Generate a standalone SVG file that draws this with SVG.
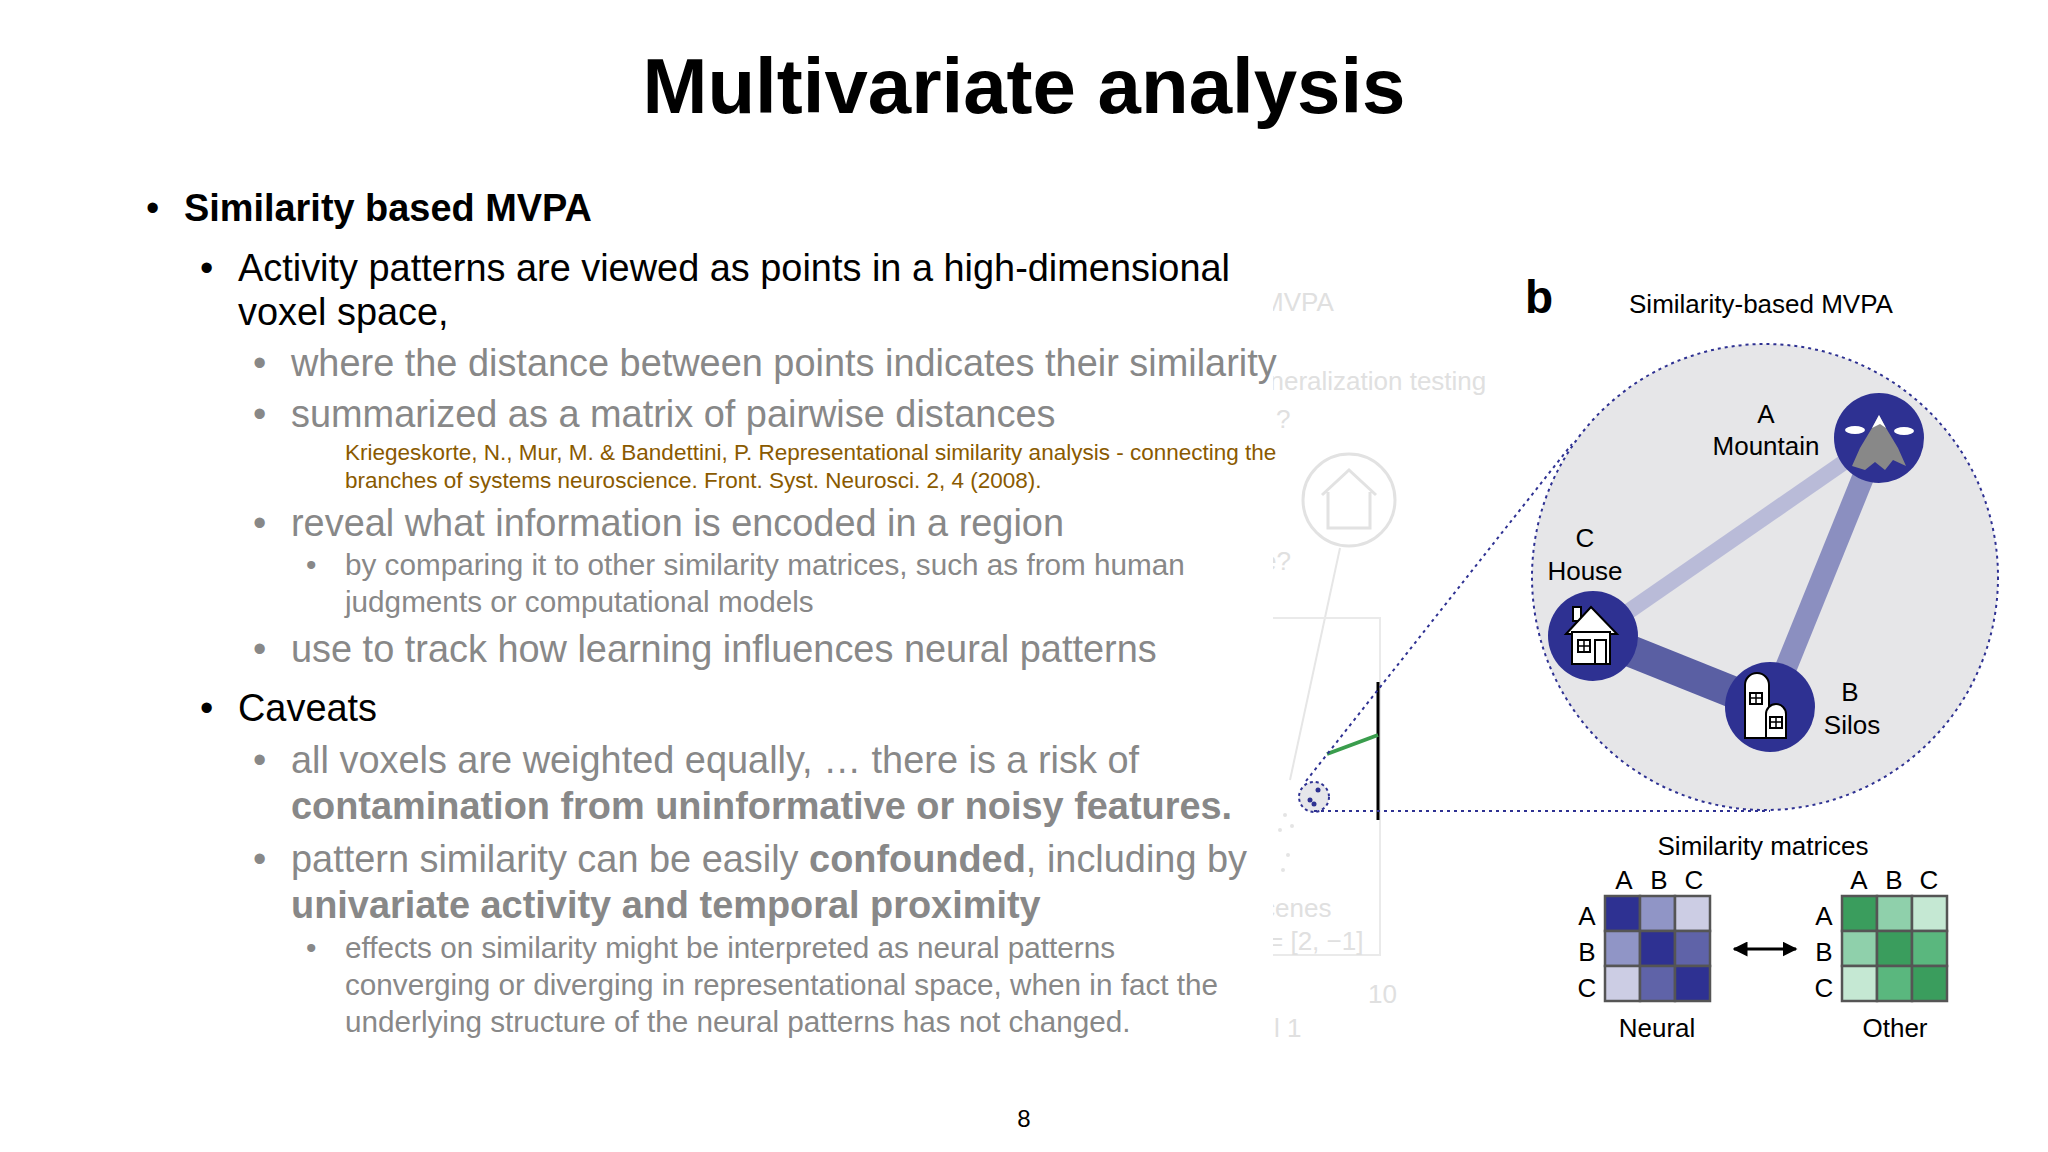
<svg xmlns="http://www.w3.org/2000/svg" width="2048" height="1152" viewBox="0 0 2048 1152">
<style>
text{font-family:"Helvetica Neue","Liberation Sans",Arial,sans-serif}
.l1{font-size:37.9px;fill:#000}
.l2{font-size:37.9px;fill:#888}
.l3{font-size:29.7px;fill:#888}
.cite{font-size:22.5px;fill:#8a5a00}
.faint{font-size:26px;fill:#e0e0e0}
.lab{font-size:26px;fill:#000}
.cell{stroke:#555;stroke-width:2.5}
</style>
<defs>
<clipPath id="bg"><rect x="1273" y="260" width="300" height="800"/></clipPath>
<marker id="ah" viewBox="0 0 10 10" refX="9" refY="5" markerWidth="5" markerHeight="5" orient="auto-start-reverse"><path d="M0,0L10,5L0,10z" fill="#000"/></marker>
</defs>
<rect width="2048" height="1152" fill="#fff"/>
<text x="1024" y="113" text-anchor="middle" font-size="78" font-weight="bold">Multivariate analysis</text>

<g clip-path="url(#bg)" id="faded">
<text class="faint" x="1262" y="311">MVPA</text>
<text class="faint" x="1255" y="390">eneralization testing</text>
<text class="faint" x="1276" y="428" font-size="22" fill="#f4d6d6">?</text>
<text class="faint" x="1262" y="570">e?</text>
<circle cx="1349" cy="500" r="46" fill="none" stroke="#e2e2e2" stroke-width="3"/>
<path d="M1322,495 L1349,470 L1376,495 M1328,492 V528 H1370 V492" fill="none" stroke="#e2e2e2" stroke-width="3"/>
<path d="M1340,548 L1290,780" stroke="#e6e6e6" stroke-width="2"/>
<path d="M1273,618 H1380 V955 H1273" fill="none" stroke="#eaeaea" stroke-width="2"/>
<text class="faint" x="1262" y="917">cenes</text>
<text class="faint" x="1268" y="950">= [2, −1]</text>
<text class="faint" x="1368" y="1003">10</text>
<text class="faint" x="1274" y="1037">l 1</text>
<g fill="#e4e4e4"><circle cx="1285" cy="815" r="2"/><circle cx="1292" cy="826" r="2"/><circle cx="1280" cy="830" r="2"/><circle cx="1288" cy="855" r="2"/><circle cx="1283" cy="870" r="2"/></g>
</g>

<g id="bullets">
<text class="l1" x="146" y="221">•</text>
<text class="l1" x="184" y="221" font-weight="bold">Similarity based MVPA</text>
<text class="l1" x="200" y="281">•</text>
<text class="l1" x="238" y="281">Activity patterns are viewed as points in a high-dimensional</text>
<text class="l1" x="238" y="325">voxel space,</text>
<text class="l2" x="253" y="376">•</text>
<text class="l2" x="291" y="376">where the distance between points indicates their similarity</text>
<text class="l2" x="253" y="427">•</text>
<text class="l2" x="291" y="427">summarized as a matrix of pairwise distances</text>
<text class="cite" x="345" y="460">Kriegeskorte, N., Mur, M. &amp; Bandettini, P. Representational similarity analysis - connecting the</text>
<text class="cite" x="345" y="488">branches of systems neuroscience. Front. Syst. Neurosci. 2, 4 (2008).</text>
<text class="l2" x="253" y="536">•</text>
<text class="l2" x="291" y="536">reveal what information is encoded in a region</text>
<text class="l3" x="306" y="575">•</text>
<text class="l3" x="345" y="575">by comparing it to other similarity matrices, such as from human</text>
<text class="l3" x="345" y="612">judgments or computational models</text>
<text class="l2" x="253" y="662">•</text>
<text class="l2" x="291" y="662">use to track how learning influences neural patterns</text>
<text class="l1" x="200" y="721">•</text>
<text class="l1" x="238" y="721">Caveats</text>
<text class="l2" x="253" y="773">•</text>
<text class="l2" x="291" y="773">all voxels are weighted equally, … there is a risk of</text>
<text class="l2" x="291" y="819" font-weight="bold">contamination from uninformative or noisy features.</text>
<text class="l2" x="253" y="872">•</text>
<text class="l2" x="291" y="872">pattern similarity can be easily <tspan font-weight="bold">confounded</tspan>, including by</text>
<text class="l2" x="291" y="918" font-weight="bold">univariate activity and temporal proximity</text>
<text class="l3" x="306" y="958">•</text>
<text class="l3" x="345" y="958">effects on similarity might be interpreted as neural patterns</text>
<text class="l3" x="345" y="995">converging or diverging in representational space, when in fact the</text>
<text class="l3" x="345" y="1032">underlying structure of the neural patterns has not changed.</text>
</g>

<text x="1525" y="313" font-size="46" font-weight="bold">b</text>
<text class="lab" x="1761" y="313" text-anchor="middle">Similarity-based MVPA</text>

<g id="zoomlines">
<line x1="1378" y1="682" x2="1378" y2="820" stroke="#000" stroke-width="3"/>
<line x1="1327" y1="754" x2="1378" y2="735" stroke="#3a9d4d" stroke-width="4"/>
<circle cx="1314" cy="797" r="15" fill="#e6e6ea" stroke="#2e3192" stroke-width="2" stroke-dasharray="3,3"/>
<g fill="#2e3192"><circle cx="1310" cy="800" r="2.5"/><circle cx="1318" cy="790" r="2.5"/><circle cx="1314" cy="804" r="2.5"/></g>
<path d="M1306,781 L1572,444 M1314,811 L1770,811" stroke="#2e3192" stroke-width="2" stroke-dasharray="3,4" fill="none"/>
</g>

<g id="space">
<circle cx="1765" cy="577" r="233" fill="#e6e6e8" stroke="#2e3192" stroke-width="2" stroke-dasharray="3,4"/>
</g>
<g id="edges">
<line x1="1593" y1="636" x2="1879" y2="438" stroke="#b9bbd8" stroke-width="16"/>
<line x1="1770" y1="707" x2="1879" y2="438" stroke="#8b8fc0" stroke-width="22"/>
<line x1="1593" y1="636" x2="1770" y2="707" stroke="#5a5fa3" stroke-width="32"/>
</g>
<g id="nodeA">
<circle cx="1879" cy="438" r="45" fill="#2e3192"/>
<polygon points="1852,466 1860,448 1872,428 1879,415 1886,428 1898,448 1906,466 1893,460 1885,470 1875,462 1865,470" fill="#888"/>
<polygon points="1872,428 1879,415 1886,428 1880,424" fill="#fff"/>
<ellipse cx="1855" cy="430" rx="10" ry="4" fill="#fff"/><ellipse cx="1904" cy="431" rx="10" ry="4" fill="#fff"/>
<text class="lab" x="1766" y="423" text-anchor="middle">A</text>
<text class="lab" x="1766" y="455" text-anchor="middle">Mountain</text>
</g>
<g id="nodeC">
<circle cx="1593" cy="636" r="45" fill="#2e3192"/>
<g fill="#fff" stroke="#000" stroke-width="2">
<rect x="1573" y="607" width="8" height="14"/>
<polygon points="1566,634 1591,607 1617,634"/>
<rect x="1572" y="632" width="38" height="32"/>
<rect x="1578" y="640" width="12" height="12"/>
<rect x="1595" y="640" width="11" height="24"/>
</g>
<path d="M1584,640V652M1578,646H1590" stroke="#000" stroke-width="1.5"/>
<text class="lab" x="1585" y="547" text-anchor="middle">C</text>
<text class="lab" x="1585" y="580" text-anchor="middle">House</text>
</g>
<g id="nodeB">
<circle cx="1770" cy="707" r="45" fill="#2e3192"/>
<g fill="#fff" stroke="#000" stroke-width="2">
<path d="M1745,738 V685 A12,12 0 0 1 1769,685 V738 Z"/>
<path d="M1766,738 V714 A10,10 0 0 1 1786,714 V738 Z"/>
<rect x="1750" y="693" width="12" height="11"/>
<rect x="1770" y="717" width="12" height="11"/>
</g>
<path d="M1756,693V704M1750,698H1762M1776,717V728M1770,722H1782" stroke="#000" stroke-width="1.5"/>
<text class="lab" x="1850" y="701" text-anchor="middle">B</text>
<text class="lab" x="1852" y="734" text-anchor="middle">Silos</text>
</g>

<g id="matrices">
<text class="lab" x="1763" y="855" text-anchor="middle">Similarity matrices</text>
<g text-anchor="middle">
<text class="lab" x="1624" y="889">A</text><text class="lab" x="1659" y="889">B</text><text class="lab" x="1694" y="889">C</text>
<text class="lab" x="1587" y="925">A</text><text class="lab" x="1587" y="961">B</text><text class="lab" x="1587" y="997">C</text>
<text class="lab" x="1859" y="889">A</text><text class="lab" x="1894" y="889">B</text><text class="lab" x="1929" y="889">C</text>
<text class="lab" x="1824" y="925">A</text><text class="lab" x="1824" y="961">B</text><text class="lab" x="1824" y="997">C</text>
<text class="lab" x="1657" y="1037">Neural</text>
<text class="lab" x="1895" y="1037">Other</text>
</g>
<g class="cell">
<rect x="1605" y="896" width="35" height="35" fill="#2e3192"/><rect x="1640" y="896" width="35" height="35" fill="#9095c6"/><rect x="1675" y="896" width="35" height="35" fill="#cccde4"/>
<rect x="1605" y="931" width="35" height="35" fill="#9095c6"/><rect x="1640" y="931" width="35" height="35" fill="#2e3192"/><rect x="1675" y="931" width="35" height="35" fill="#5f63a8"/>
<rect x="1605" y="966" width="35" height="35" fill="#cccde4"/><rect x="1640" y="966" width="35" height="35" fill="#5f63a8"/><rect x="1675" y="966" width="35" height="35" fill="#2e3192"/>
<rect x="1842" y="896" width="35" height="35" fill="#3a9d5d"/><rect x="1877" y="896" width="35" height="35" fill="#8fd0ab"/><rect x="1912" y="896" width="35" height="35" fill="#c5e8d3"/>
<rect x="1842" y="931" width="35" height="35" fill="#8fd0ab"/><rect x="1877" y="931" width="35" height="35" fill="#3a9d5d"/><rect x="1912" y="931" width="35" height="35" fill="#5ab77e"/>
<rect x="1842" y="966" width="35" height="35" fill="#c5e8d3"/><rect x="1877" y="966" width="35" height="35" fill="#5ab77e"/><rect x="1912" y="966" width="35" height="35" fill="#3a9d5d"/>
</g>
<line x1="1734" y1="949" x2="1796" y2="949" stroke="#000" stroke-width="3" marker-start="url(#ah)" marker-end="url(#ah)"/>
</g>

<text x="1024" y="1127" text-anchor="middle" font-size="24">8</text>
</svg>
